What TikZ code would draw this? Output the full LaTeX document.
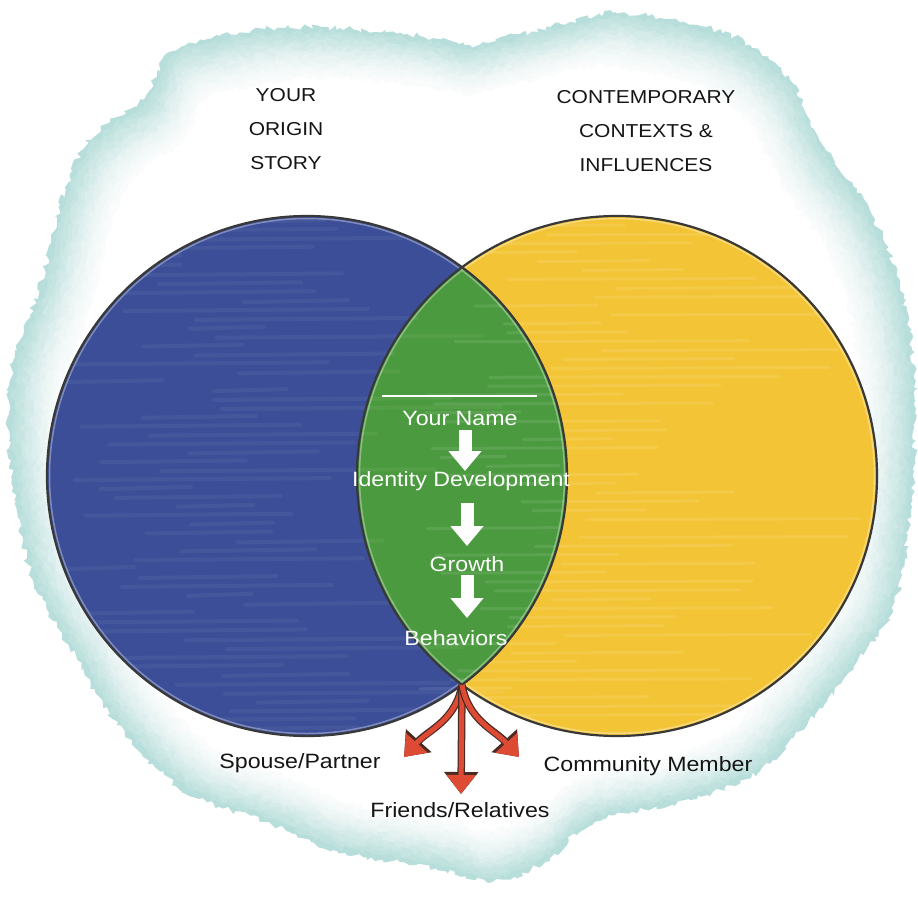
\documentclass[tikz,border=0pt]{standalone}
\usepackage{fontspec}
\usetikzlibrary{arrows.meta,decorations.pathmorphing}
\newfontfamily\lab[FakeStretch=1.12]{Liberation Sans}
\definecolor{washteal}{HTML}{A6D6D2}
\definecolor{vblue}{HTML}{3B4E97}
\definecolor{vyellow}{HTML}{F3C536}
\definecolor{vgreen}{HTML}{4B9A3F}
\definecolor{vrim}{HTML}{383838}
\definecolor{arrowred}{HTML}{DE4B35}
\definecolor{arrowdark}{HTML}{4A2A22}
\definecolor{inktext}{HTML}{151515}
\newcommand{\washblob}[1]{\fill[#1] plot[smooth cycle, tension=0.55] coordinates {
 (170,-52) (220,-36) (270,-28) (340,-28) (420,-36) (470,-45) (520,-34) (570,-22)
 (615,-12) (660,-18) (700,-26) (745,-42) (790,-80) (825,-148) (872,-215) (900,-285)
 (912,-350) (915,-413) (911,-513) (893,-610) (858,-660) (808,-722) (758,-772) (690,-800)
 (595,-822) (545,-862) (492,-882) (455,-872) (400,-862) (333,-850) (267,-822) (183,-790)
 (117,-725) (77,-660) (33,-580) (12,-480) (10,-380) (30,-315) (45,-270) (60,-205)
 (82,-150) (110,-122) (145,-98)};}
\begin{document}
\begin{tikzpicture}[x=1pt,y=1pt,
  rough/.style={decorate, decoration={random steps, segment length=4pt, amplitude=3pt}},
  caplbl/.style={font=\lab\fontsize{18.7}{22}\selectfont, text=inktext, anchor=base, inner sep=0pt},
  lbl/.style={font=\lab\fontsize{20.7}{24}\selectfont, text=inktext, anchor=base, inner sep=0pt},
  wlbl/.style={lbl, text=white},
  whitearr/.style={draw=white, line width=13pt, -{Triangle[width=32pt,length=20pt]}},
  redarr/.style={draw=arrowred, line width=5pt, -{Triangle[width=28pt,length=19pt]},
    preaction={draw=arrowdark, line width=7.5pt, -{Triangle[width=33pt,length=22pt]}}},
  rim/.style={draw=vrim, line width=2.2pt}]
\useasboundingbox (0,0) rectangle (918,-912);
\fill[white] (0,0) rectangle (918,-912);
% watercolour wash
\pgfmathsetseed{3}
\washblob{washteal, opacity=0.8, rough}
\foreach \s/\o in {0.99/0.12, 0.98/0.12, 0.97/0.14, 0.96/0.16, 0.95/0.18, 0.94/0.2, 0.93/0.22, 0.92/0.25, 0.91/0.3, 0.9/0.35, 0.89/0.45}{
 \begin{scope}[shift={(462,-455)},scale=\s,shift={(-462,455)}]
  \washblob{white, opacity=\o, rough}
 \end{scope}
}
\begin{scope}[shift={(462,-455)},scale=0.88,shift={(-462,455)}]
 \washblob{white, rough}
\end{scope}
% circles
\coordinate (cl) at (307,-476);
\coordinate (cr) at (617,-476);
\coordinate (top) at (462,-267);
\coordinate (bot) at (462,-685);
\fill[vblue] (cl) circle (260);
\fill[vyellow] (cr) circle (260);
\begin{scope}
 \clip (cl) circle (260);
 \fill[vgreen] (cr) circle (260);
\end{scope}
% crayon streaks
\pgfmathsetseed{7}
\begin{scope}
 \clip (cl) circle (257) (cr) circle (257);
 \foreach \k in {0,...,58}{
  \pgfmathsetmacro\yy{-222-\k*8.9}
  \pgfmathsetmacro\xa{60+rnd*200}
  \pgfmathsetmacro\xb{\xa+60+rnd*220}
  \pgfmathsetmacro\xc{420+rnd*200}
  \pgfmathsetmacro\xd{\xc+60+rnd*240}
  \draw[white, opacity=0.05, line width=4pt, line cap=round] (\xa,\yy) -- (\xb,\yy+2);
  \draw[white, opacity=0.09, line width=3pt, line cap=round] (\xc,\yy-4) -- (\xd,\yy-3);
 }
\end{scope}
\draw[white, opacity=0.35, line width=1.5pt] (cl) circle (257.5) (cr) circle (257.5);
\draw[rim] (cl) circle (260);
\draw[rim] (cr) circle (260);
% headings
\node[caplbl] (o1) at (286,-102) {YOUR};
\node[caplbl] (o2) at (286,-136) {ORIGIN};
\node[caplbl] (o3) at (286,-170) {STORY};
\node[caplbl] (c1) at (646,-104) {CONTEMPORARY};
\node[caplbl] (c2) at (646,-138) {CONTEXTS \&};
\node[caplbl] (c3) at (646,-172) {INFLUENCES};
% lens content
\coordinate (la) at (382,-396);
\coordinate (lb) at (537,-396);
\draw[white, line width=2pt] (la) -- (lb);
\node[wlbl] (yn) at (460,-425) {Your Name};
\node[wlbl] (idd) at (461,-486) {Identity Development};
\node[wlbl] (gr) at (467,-571) {Growth};
\node[wlbl] (bh) at (456,-645) {Behaviors};
\coordinate (a1s) at (465,-430); \coordinate (a1e) at (465,-471);
\coordinate (a2s) at (467,-503); \coordinate (a2e) at (467,-546);
\coordinate (a3s) at (467,-575); \coordinate (a3e) at (467,-618);
\draw[whitearr] (a1s) -- (a1e);
\draw[whitearr] (a2s) -- (a2e);
\draw[whitearr] (a3s) -- (a3e);
% red arrows
\coordinate (tipL) at (404,-757);
\coordinate (tipM) at (461,-794);
\coordinate (tipR) at (519,-757);
\draw[redarr] (bot) to[out=-100,in=48] (tipL);
\draw[redarr] (bot) -- (tipM);
\draw[redarr] (bot) to[out=-80,in=132] (tipR);
% bottom labels
\node[lbl] (sp) at (300,-768) {Spouse/Partner};
\node[lbl] (fr) at (460,-817) {Friends/Relatives};
\node[lbl] (cm) at (648,-771) {Community Member};
\end{tikzpicture}
\end{document}
